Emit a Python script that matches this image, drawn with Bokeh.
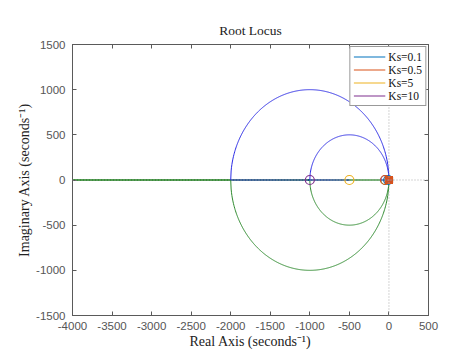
import numpy as np
from bokeh.plotting import figure
from bokeh.models import (Range1d, LinearAxis, Legend, LegendItem, Span, FixedTicker, Title,
                          CustomJSTickFormatter)
from bokeh.embed import file_html
from bokeh.resources import INLINE

# data
ks_labels = ["Ks=0.1", "Ks=0.5", "Ks=5", "Ks=10"]
zeros = [-10, -50, -500, -1000]          # open-loop zero per system (s + 100*Ks)
poles = [0, 0, 0, 0]                     # double pole at origin
sys_colors = ["#0072BD", "#D95319", "#EDB120", "#7E2F8E"]
x_ticks = [-4000, -3500, -3000, -2500, -2000, -1500, -1000, -500, 0, 500]
y_ticks = [-1500, -1000, -500, 0, 500, 1000, 1500]

upper_color = "#2b2be6"
lower_color = "#2f8a2f"

p = figure(width=474, height=355, output_backend="svg", toolbar_location=None,
           x_range=Range1d(-4000, 500), y_range=Range1d(-1500, 1500),
           min_border_left=72, min_border_right=46, min_border_top=44, min_border_bottom=40,
           background_fill_color="white", border_fill_color="white")
p.grid.visible = False
p.outline_line_color = "#5a5a5a"

p.title = Title(text="Root Locus", align="center", text_font="Liberation Serif",
                text_font_size="13.5px", text_font_style="normal", text_color="#222222",
                offset=0, standoff=14)

# zero reference lines
p.add_layout(Span(location=0, dimension="height", line_color="#aaaaaa", line_dash="1 2", line_width=1))
p.add_layout(Span(location=0, dimension="width", line_color="#aaaaaa", line_dash="1 2", line_width=1))

# root locus branches: s^2 + k (s - z) = 0
for z in zeros:
    a = -z
    k = np.concatenate([np.linspace(0, 4 * a, 400), np.geomspace(4 * a, 1e6, 400)[1:]])
    disc = (k * k - 4 * k * a).astype(complex)
    r1 = (-k + np.sqrt(disc)) / 2
    r2 = (-k - np.sqrt(disc)) / 2
    up = np.where(np.imag(r1) >= 0, r1, r2)
    lo = np.where(np.imag(r1) >= 0, r2, r1)
    after = k >= 4 * a
    up = np.where(after, r1, up)
    lo = np.where(after, r2, lo)
    p.line(np.real(lo), np.imag(lo), line_color=lower_color, line_width=1)
    p.line(np.real(up), np.imag(up), line_color=upper_color, line_width=1)

legend_items = []
for lab, z, c in zip(ks_labels, zeros, sys_colors):
    p.scatter([z], [0], marker="circle", size=9, fill_color=None, line_color=c, line_width=1.2)
    # legend swatch line (placed outside the visible range)
    r = p.line([1e7, 1e7 + 1], [1e7, 1e7], line_color=c, line_width=1.2)
    legend_items.append(LegendItem(label=lab, renderers=[r]))

# poles at origin (orange drawn last so it shows on top)
for idx in [0, 2, 3, 1]:
    p.scatter([poles[idx]], [0], marker="square_x", size=7, fill_color=sys_colors[idx],
              fill_alpha=0.6, line_color=sys_colors[idx], line_width=1.2)

legend = Legend(items=legend_items, location="top_right", label_text_font="Liberation Serif",
                label_text_font_size="11.5px", label_text_color="#111111",
                glyph_width=32, glyph_height=13, label_height=13, spacing=0,
                padding=3, margin=2, border_line_color="#333333",
                label_standoff=3, background_fill_alpha=1)
p.add_layout(legend)

label_fmt = CustomJSTickFormatter(code="return String(tick);")
blank_fmt = CustomJSTickFormatter(code="return '';")

def style_axis(ax):
    ax.axis_line_color = "#5a5a5a"
    ax.major_tick_line_color = "#5a5a5a"
    ax.minor_tick_line_color = None
    ax.major_tick_in = 4
    ax.major_tick_out = 0
    ax.major_label_text_font = "Liberation Sans"
    ax.major_label_text_font_size = "11.5px"
    ax.major_label_text_color = "#555555"
    ax.axis_label_text_font = "Liberation Serif"
    ax.axis_label_text_font_size = "14px"
    ax.axis_label_text_font_style = "normal"
    ax.axis_label_text_color = "#222222"

p.xaxis.ticker = FixedTicker(ticks=x_ticks)
p.yaxis.ticker = FixedTicker(ticks=y_ticks)
p.xaxis.formatter = label_fmt
p.yaxis.formatter = label_fmt
p.xaxis.axis_label = "Real Axis (seconds\u207b\u00b9)"
p.yaxis.axis_label = "Imaginary Axis (seconds\u207b\u00b9)"
p.xaxis.major_label_standoff = 6
p.yaxis.major_label_standoff = 7
p.xaxis.axis_label_standoff = 1
p.yaxis.axis_label_standoff = 1
style_axis(p.xaxis[0])
style_axis(p.yaxis[0])

top = LinearAxis(ticker=FixedTicker(ticks=x_ticks), formatter=blank_fmt)
right = LinearAxis(ticker=FixedTicker(ticks=y_ticks), formatter=blank_fmt)
for ax in (top, right):
    style_axis(ax)
    ax.major_label_standoff = 0
p.add_layout(top, "above")
p.add_layout(right, "right")

open("out.html", "w").write(file_html(p, INLINE))
